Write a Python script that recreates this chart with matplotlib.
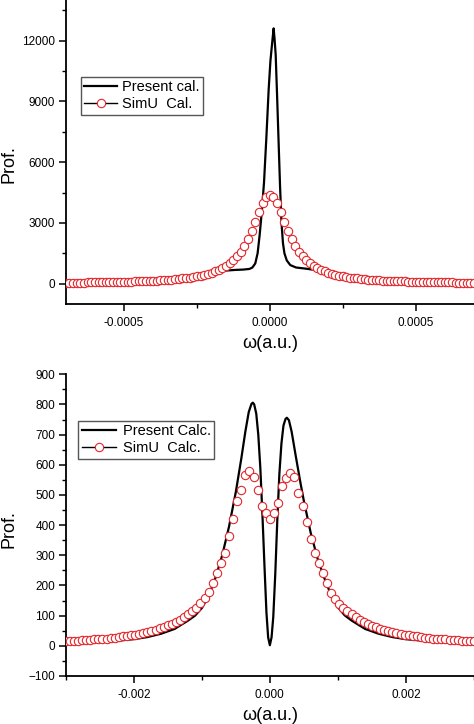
import numpy as np
import matplotlib
matplotlib.use("Agg")
import matplotlib.pyplot as plt
from matplotlib.ticker import MultipleLocator, FormatStrFormatter
from matplotlib.lines import Line2D

plt.rcParams['font.family'] = ['Liberation Sans', 'DejaVu Sans']

# ---------------- top panel data ----------------
top_present_x = [-700, -600, -500, -400, -300, -250, -200, -170, -150, -120, -90, -70, -60, -50,
                 -42, -35, -28, -20, -12, -4, 2, 8, 13, 16, 20, 25, 30, 35, 40, 45, 50, 58, 70,
                 90, 120, 150, 180, 220, 300, 400, 500, 600, 700]
top_present_y = [45, 60, 85, 130, 230, 330, 480, 600, 650, 680, 700, 730, 800, 1000,
                 1500, 2400, 3500, 5000, 7200, 9600, 11000, 11900, 12600, 12100, 11300, 9200,
                 7000, 4800, 3000, 2000, 1500, 1150, 920, 800, 750, 690, 600, 470, 240, 140,
                 90, 62, 46]
# SimU circles (|k| index from centre, spacing 12.5e-6)
top_simu_half = [4400, 4281, 3960, 3520, 3046, 2597, 2200, 1864, 1584, 1354, 1165, 1009, 880,
                 773, 683, 607, 542, 487, 440, 399, 363, 332, 305, 280, 259, 240, 222, 207,
                 193, 181, 169, 159, 149, 141, 133, 126, 119, 113, 107, 102, 97, 92, 88, 84,
                 80, 77, 74, 71, 68, 65, 62, 60, 58, 56, 54, 52, 50]
top_simu_y = top_simu_half[:0:-1] + top_simu_half
top_simu_x = np.linspace(-700, 700, len(top_simu_y))

# ---------------- bottom panel data ----------------
bot_present_x = [-3000, -2600, -2200, -2000, -1800, -1600, -1400, -1200, -1100, -1000, -900,
                 -800, -700, -600, -500, -420, -360, -310, -270, -250, -230, -200, -170, -140,
                 -110, -80, -50, -25, 0, 25, 50, 80, 110, 140, 170, 200, 230, 250, 280, 320,
                 380, 450, 500, 600, 700, 800, 900, 1000, 1100, 1200, 1400, 1600, 1800, 2000,
                 2200, 2600, 3000]
bot_present_y = [9, 12, 18, 22, 29, 40, 56, 84, 100, 125, 165, 225, 300, 395, 510, 620, 710,
                 775, 802, 806, 800, 770, 700, 590, 440, 270, 110, 28, 2, 28, 95, 240, 420,
                 570, 670, 730, 752, 756, 748, 710, 630, 540, 480, 375, 290, 225, 168, 128,
                 101, 84, 56, 40, 29, 22, 18, 12, 9]
bot_simu_left = [420, 440, 465, 515, 560, 580, 565, 517, 479, 419, 364, 309, 273, 240, 207,
                 180, 158, 142, 127, 115, 105, 95, 87, 80, 74, 68, 63, 58, 54, 50, 46, 43,
                 40, 37, 35, 33, 31, 29, 27, 26, 24, 23, 22, 21, 20, 19, 18, 17, 16, 15, 15]
bot_simu_right = [420, 440, 472, 530, 557, 573, 560, 508, 465, 411, 353, 309, 273, 242, 207,
                  176, 155, 140, 125, 114, 104, 94, 86, 79, 73, 67, 62, 57, 53, 49, 45, 42,
                  39, 37, 35, 33, 31, 29, 27, 26, 24, 23, 22, 21, 20, 19, 18, 17, 16, 15, 15]
bot_simu_y = bot_simu_left[:0:-1] + bot_simu_right
bot_simu_x = np.linspace(-3000, 3000, len(bot_simu_y))

W, H = 474, 724
fig = plt.figure(figsize=(W / 100, H / 100), dpi=100)

ax1 = fig.add_axes([65.7 / W, 1 - 304 / H, (W - 65.7) / W, 304 / H])
ax2 = fig.add_axes([65.7 / W, 1 - 676 / H, (W - 65.7) / W, (676 - 374.3) / H])

red = '#e3262c'
MS = 6.0
MEW = 0.8


def style(ax):
    for s in ['top', 'right']:
        ax.spines[s].set_visible(False)
    for s in ['left', 'bottom']:
        ax.spines[s].set_linewidth(1.3)
    ax.tick_params(which='major', direction='out', length=5, width=1.1, labelsize=8.5, pad=2.5)
    ax.tick_params(which='minor', direction='out', length=3, width=1.0)
    ax.tick_params(axis='x', which='major', pad=4)


def handles(l1, l2):
    return [Line2D([], [], color='black', lw=1.6, label=l1),
            Line2D([], [], color='black', lw=1.0, marker='o', ms=MS, mfc='white',
                   mec=red, mew=MEW, label=l2)]


# top
ax1.plot(np.array(top_present_x) * 1e-6, top_present_y, color='black', lw=1.6, zorder=2)
ax1.plot(top_simu_x * 1e-6, top_simu_y, ls='none', marker='o', ms=MS,
         mfc='white', mec=red, mew=MEW, zorder=3)
ax1.set_xlim(-0.0007, 0.0007)
ax1.set_ylim(-1000, 14000)
ax1.xaxis.set_major_locator(MultipleLocator(0.0005))
ax1.xaxis.set_minor_locator(MultipleLocator(0.00025))
ax1.xaxis.set_major_formatter(FormatStrFormatter('%.4f'))
ax1.set_yticks([0, 3000, 6000, 9000, 12000])
ax1.yaxis.set_minor_locator(MultipleLocator(1500))
style(ax1)
leg1 = ax1.legend(handles=handles('Present cal.', 'SimU  Cal.'), loc='upper left',
                  bbox_to_anchor=(0.0367, 0.748), borderaxespad=0,
                  fontsize=10.5, handlelength=2.25, handletextpad=0.3, borderpad=0.25,
                  labelspacing=0.2, fancybox=False, framealpha=1, edgecolor='#555555')
leg1.get_frame().set_linewidth(1.0)

# bottom
ax2.plot(np.array(bot_present_x) * 1e-6, bot_present_y, color='black', lw=1.6, zorder=2)
ax2.plot(bot_simu_x * 1e-6, bot_simu_y, ls='none', marker='o', ms=MS,
         mfc='white', mec=red, mew=MEW, zorder=3)
ax2.set_xlim(-0.003, 0.003)
ax2.set_ylim(-100, 900)
ax2.xaxis.set_major_locator(MultipleLocator(0.002))
ax2.xaxis.set_minor_locator(MultipleLocator(0.001))
ax2.xaxis.set_major_formatter(FormatStrFormatter('%.3f'))
ax2.yaxis.set_major_locator(MultipleLocator(100))
ax2.yaxis.set_minor_locator(MultipleLocator(50))
style(ax2)
leg2 = ax2.legend(handles=handles('Present Calc.', 'SimU  Calc.'), loc='upper left',
                  bbox_to_anchor=(0.0309, 0.846), borderaxespad=0,
                  fontsize=10.5, handlelength=2.3, handletextpad=0.5, borderpad=0.25,
                  labelspacing=0.2, fancybox=False, framealpha=1, edgecolor='#555555')
leg2.get_frame().set_linewidth(1.0)

# axis labels
fig.text(269.8 / W, 1 - 343 / H, 'ω(a.u.)', ha='center', va='center', fontsize=13)
fig.text(269.8 / W, 1 - 715 / H, 'ω(a.u.)', ha='center', va='center', fontsize=13)
fig.text(9 / W, 1 - 164 / H, 'Prof.', ha='center', va='center', rotation=90, fontsize=13)
fig.text(9 / W, 1 - 529 / H, 'Prof.', ha='center', va='center', rotation=90, fontsize=13)

fig.savefig('out.png', dpi=100)
